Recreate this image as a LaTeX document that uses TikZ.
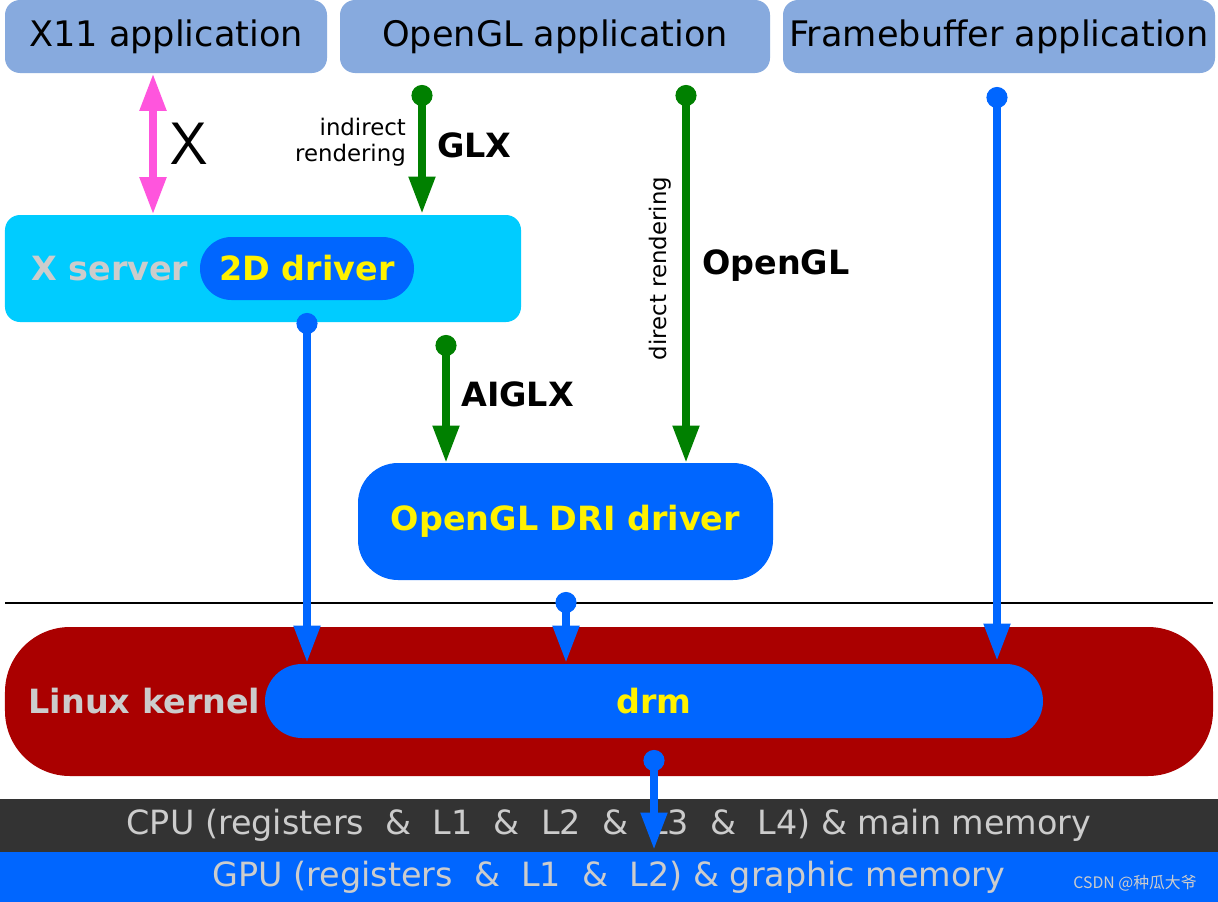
\documentclass[tikz,border=0pt]{standalone}
\usepackage{fontspec}
\setmainfont{DejaVu Sans}
\newfontfamily\cjk{Noto Sans CJK SC}
\usetikzlibrary{arrows.meta}
\usetikzlibrary{positioning}
\definecolor{appblue}{HTML}{87AADE}
\definecolor{srvcyan}{HTML}{00CCFF}
\definecolor{drvblue}{HTML}{0066FF}
\definecolor{kernred}{HTML}{AA0000}
\definecolor{pinkx}{HTML}{FF55DD}
\definecolor{glgreen}{HTML}{008000}
\definecolor{txtgray}{HTML}{CCCCCC}
\tikzset{
  app/.style = {fill=appblue, rounded corners=0.3cm, inner sep=0, font=\fontsize{20}{24}\selectfont},
  drv/.style = {fill=drvblue, inner sep=0, text=yellow, font=\bfseries\fontsize{19}{23}\selectfont},
  lbl/.style = {font=\bfseries\fontsize{19}{23}\selectfont},
  small/.style = {font=\fontsize{13}{15}\selectfont, align=right},
  link/.style = {line width=4.5pt, -{Triangle[length=0.75cm,width=0.5cm]}},
  dotlink/.style = {link, {Circle[length=0.42cm]}-{Triangle[length=0.75cm,width=0.5cm]}},
}
\begin{document}
\begin{tikzpicture}
	\useasboundingbox (0,0) rectangle (24.36,-18.04);
	\fill[white] (0,0) rectangle (24.36,-18.04);

	% top row
	\node (x11app) at(3.32,-0.73) [app, minimum width=6.44cm, minimum height=1.46cm] {X11 application};
	\node (oglapp) at(11.1,-0.73) [app, minimum width=8.6cm, minimum height=1.46cm] {OpenGL application};
	\node (fbapp)  at(19.98,-0.73)[app, minimum width=8.64cm, minimum height=1.46cm] {Framebuffer application};

	% X server
	\node (xsrv) at(5.26,-5.37) [fill=srvcyan, rounded corners=0.3cm, minimum width=10.32cm, minimum height=2.14cm] {};
	\node (xsrvlbl) at(0.5,-5.37) [anchor=west, text=txtgray, lbl] {X server};
	\node (drv2d) at(6.14,-5.37) [drv, rounded corners=0.63cm, minimum width=4.28cm, minimum height=1.26cm] {2D driver};

	% DRI driver
	\node (dri) at(11.31,-10.43) [drv, rounded corners=0.8cm, minimum width=8.3cm, minimum height=2.34cm] {OpenGL DRI driver};

	% separator
	\coordinate (sepl) at(0.1,-12.06);
	\coordinate (sepr) at(24.26,-12.06);
	\draw[line width=0.8pt] (sepl) -- (sepr);

	% kernel
	\node (kern) at(12.18,-14.03) [fill=kernred, rounded corners=1.3cm, minimum width=24.16cm, minimum height=2.98cm] {};
	\node (kernlbl) at(0.45,-14.03) [anchor=west, text=txtgray, lbl] {Linux kernel};
	\node (drm) at(13.08,-14.02) [drv, rounded corners=0.74cm, minimum width=15.56cm, minimum height=1.48cm] {drm};

	% hardware
	\node (cpu) at(12.18,-16.51) [fill=black!80, minimum width=24.36cm, minimum height=1.06cm, text=txtgray, font=\fontsize{19}{23}\selectfont] {CPU (registers \ \& \ L1 \ \& \ L2 \ \& \ L3 \ \& \ L4) \& main memory};
	\node (gpu) at(12.18,-17.54) [fill=drvblue, minimum width=24.36cm, minimum height=1.0cm, inner sep=0, text=txtgray, font=\fontsize{19}{23}\selectfont] {GPU (registers \ \& \ L1 \ \& \ L2) \& graphic memory};
	\node (mark) at(22.7,-17.66) [text=txtgray, font=\cjk\fontsize{9}{11}\selectfont] {CSDN @种瓜大爷};

	% connector ends
	\coordinate (glxs) at(8.44,-1.7);   \coordinate (glxe) at(8.44,-4.28);
	\coordinate (aigs) at(8.92,-6.7);   \coordinate (aige) at(8.92,-9.26);
	\coordinate (dirs) at(13.72,-1.7);  \coordinate (dire) at(13.72,-9.26);
	\coordinate (d2ds) at(6.14,-6.26);  \coordinate (d2de) at(6.14,-13.26);
	\coordinate (dris) at(11.32,-11.84);\coordinate (drie) at(11.32,-13.26);
	\coordinate (fbs)  at(19.94,-1.74); \coordinate (fbe)  at(19.94,-13.22);
	\coordinate (drms) at(13.08,-15.0); \coordinate (drme) at(13.08,-17.0);

	\draw[link, pinkx, {Triangle[length=0.75cm,width=0.5cm]}-{Triangle[length=0.75cm,width=0.5cm]}] (x11app.south -| 3.06,0) -- (xsrv.north -| 3.06,0) node[midway, right=0.15cm, text=black, font=\fontsize{34}{34}\selectfont] {$\mathsf{X}$};
	\draw[dotlink, glgreen] (glxs) -- (glxe);
	\node (indir) at(8.24,-2.85) [anchor=east, small] {indirect\\rendering};
	\node (glx) at(8.62,-2.9) [anchor=west, lbl] {GLX};
	\draw[dotlink, glgreen] (aigs) -- (aige);
	\node (aiglx) at(9.1,-7.88) [anchor=west, lbl] {AIGLX};
	\draw[dotlink, glgreen] (dirs) -- (dire);
	\node (dirlbl) at(13.2,-5.37) [rotate=90, small] {direct rendering};
	\node (ogl) at(13.92,-5.32) [anchor=west, lbl] {OpenGL};

	\draw[dotlink, drvblue] (d2ds) -- (d2de);
	\draw[dotlink, drvblue] (dris) -- (drie);
	\draw[dotlink, drvblue] (fbs) -- (fbe);
	\draw[dotlink, drvblue] (drms) -- (drme);
\end{tikzpicture}
\end{document}
